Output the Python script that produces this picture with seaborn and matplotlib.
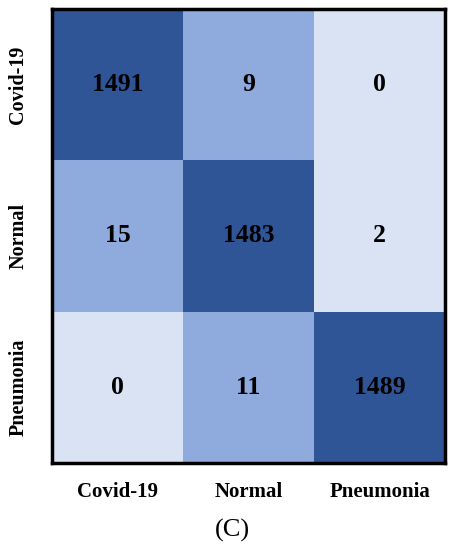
import numpy as np
import pandas as pd
import matplotlib
matplotlib.use("Agg")
import matplotlib.pyplot as plt
from matplotlib.colors import ListedColormap, BoundaryNorm
import seaborn as sns

# Confusion matrix data
classes = ["Covid-19", "Normal", "Pneumonia"]
row_covid = [1491, 9, 0]
row_normal = [15, 1483, 2]
row_pneumonia = [0, 11, 1489]

cm = pd.DataFrame([row_covid, row_normal, row_pneumonia],
                  index=classes, columns=classes)

sns.set_style("white")
plt.rcParams["font.family"] = ["Liberation Serif", "DejaVu Serif"]
plt.rcParams["text.color"] = "black"
plt.rcParams["xtick.color"] = "black"
plt.rcParams["ytick.color"] = "black"

# three shade levels, like the original
cmap = ListedColormap(["#DAE3F3", "#8FAADC", "#2F5597"])
norm = BoundaryNorm([0, 5, 100, 2000], cmap.N)

fig = plt.figure(figsize=(4.58, 5.50), dpi=100)
ax = fig.add_axes([52 / 458, 1 - 463 / 550, 393 / 458, 454 / 550])

sns.heatmap(
    cm,
    ax=ax,
    cmap=cmap,
    norm=norm,
    cbar=False,
    annot=True,
    fmt="d",
    annot_kws={"fontsize": 18.5, "fontweight": "bold", "color": "black"},
)

for spine in ax.spines.values():
    spine.set_visible(True)
    spine.set_color("black")
    spine.set_linewidth(2.5)

ax.tick_params(axis="x", length=0, pad=14, labelcolor="black")
ax.tick_params(axis="y", length=0, pad=17, labelcolor="black")
ax.set_xticklabels(classes, fontsize=15, fontweight="bold")
ax.set_yticklabels(classes, fontsize=14.5, fontweight="bold",
                   rotation=90, va="center")

fig.text(232 / 458, 1 - 530 / 550, "(C)", fontsize=19, color="black",
         ha="center", va="center")

fig.savefig("out.png", dpi=100)
